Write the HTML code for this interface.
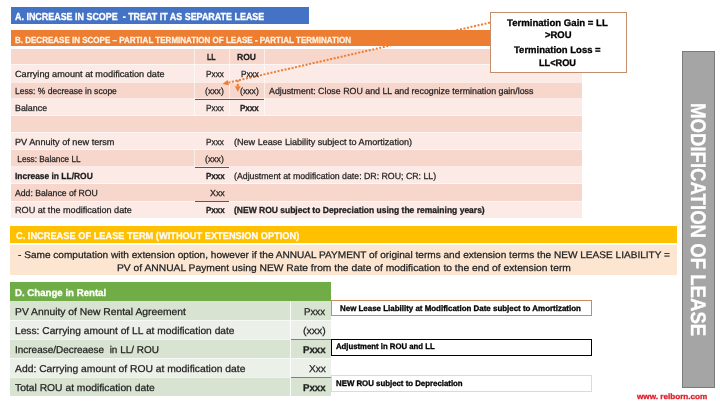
<!DOCTYPE html>
<html><head><meta charset="utf-8"><title>Modification of Lease</title>
<style>
html,body{margin:0;padding:0;background:#fff;}
body{width:720px;height:405px;position:relative;overflow:hidden;text-rendering:geometricPrecision;font-family:"Liberation Sans",Arial,sans-serif;}
.r{position:absolute;}
.t{position:absolute;white-space:pre;transform-origin:0 0;font-weight:400;-webkit-text-stroke:0.25px currentColor;}
.b{-webkit-text-stroke:0.3px currentColor;}
.b{font-weight:700;}
</style></head><body>
<div class="r" style="left:10.8px;top:6.5px;width:298.3px;height:17.1px;background:#4472c4;"></div>
<div class="r" style="left:10.5px;top:30.4px;width:571.1px;height:16.0px;background:#ed7d31;"></div>
<div class="r" style="left:10.5px;top:48.8px;width:571.1px;height:15.5px;background:#f7d6cb;"></div>
<div class="r" style="left:10.5px;top:64.3px;width:571.1px;height:18.0px;background:#fbeae5;"></div>
<div class="r" style="left:10.5px;top:82.3px;width:571.1px;height:16.5px;background:#f7d6cb;"></div>
<div class="r" style="left:10.5px;top:98.8px;width:571.1px;height:16.8px;background:#fbeae5;"></div>
<div class="r" style="left:10.5px;top:115.6px;width:571.1px;height:16.8px;background:#f7d6cb;"></div>
<div class="r" style="left:10.5px;top:132.4px;width:571.1px;height:17.2px;background:#fbeae5;"></div>
<div class="r" style="left:10.5px;top:149.6px;width:571.1px;height:17.2px;background:#f7d6cb;"></div>
<div class="r" style="left:10.5px;top:166.8px;width:571.1px;height:17.1px;background:#fbeae5;"></div>
<div class="r" style="left:10.5px;top:183.9px;width:571.1px;height:17.2px;background:#f7d6cb;"></div>
<div class="r" style="left:10.5px;top:201.1px;width:571.1px;height:17.1px;background:#fbeae5;"></div>
<div class="r" style="left:10.5px;top:63.8px;width:571.1px;height:1.0px;background:rgba(255,255,255,0.55);"></div>
<div class="r" style="left:10.5px;top:81.8px;width:571.1px;height:1.0px;background:rgba(255,255,255,0.55);"></div>
<div class="r" style="left:10.5px;top:98.3px;width:571.1px;height:1.0px;background:rgba(255,255,255,0.55);"></div>
<div class="r" style="left:10.5px;top:115.1px;width:571.1px;height:1.0px;background:rgba(255,255,255,0.55);"></div>
<div class="r" style="left:10.5px;top:131.9px;width:571.1px;height:1.0px;background:rgba(255,255,255,0.55);"></div>
<div class="r" style="left:10.5px;top:149.1px;width:571.1px;height:1.0px;background:rgba(255,255,255,0.55);"></div>
<div class="r" style="left:10.5px;top:166.3px;width:571.1px;height:1.0px;background:rgba(255,255,255,0.55);"></div>
<div class="r" style="left:10.5px;top:183.4px;width:571.1px;height:1.0px;background:rgba(255,255,255,0.55);"></div>
<div class="r" style="left:10.5px;top:200.6px;width:571.1px;height:1.0px;background:rgba(255,255,255,0.55);"></div>
<div class="r" style="left:194.2px;top:48.8px;width:1.0px;height:66.8px;background:rgba(255,255,255,0.6);"></div>
<div class="r" style="left:229.1px;top:48.8px;width:1.0px;height:66.8px;background:rgba(255,255,255,0.6);"></div>
<div class="r" style="left:264.1px;top:48.8px;width:1.0px;height:66.8px;background:rgba(255,255,255,0.6);"></div>
<div class="r" style="left:194.2px;top:149.6px;width:1.0px;height:17.2px;background:rgba(255,255,255,0.6);"></div>
<div class="r" style="left:195px;top:98.6px;width:69.3px;height:1.0px;background:#595959;"></div>
<div class="r" style="left:194.5px;top:166.5px;width:34.7px;height:1.0px;background:#595959;"></div>
<div class="r" style="left:194.5px;top:200.8px;width:34.7px;height:1.0px;background:#595959;"></div>
<div class="r" style="left:10.4px;top:226.0px;width:667.0px;height:16.8px;background:#ffc000;"></div>
<div class="r" style="left:10.4px;top:244.8px;width:667.0px;height:30.5px;background:#fce6d2;"></div>
<div class="r" style="left:10.3px;top:282.1px;width:320.5px;height:18.6px;background:#70ad47;"></div>
<div class="r" style="left:10.3px;top:300.7px;width:320.3px;height:19.3px;background:#d8e3d1;"></div>
<div class="r" style="left:10.3px;top:320.0px;width:320.3px;height:19.2px;background:#ebf0e8;"></div>
<div class="r" style="left:10.3px;top:339.2px;width:320.3px;height:18.9px;background:#d8e3d1;"></div>
<div class="r" style="left:10.3px;top:358.1px;width:320.3px;height:18.9px;background:#ebf0e8;"></div>
<div class="r" style="left:10.3px;top:377.0px;width:320.3px;height:18.9px;background:#d8e3d1;"></div>
<div class="r" style="left:10.3px;top:319.5px;width:320.3px;height:1.0px;background:rgba(255,255,255,0.6);"></div>
<div class="r" style="left:10.3px;top:338.7px;width:320.3px;height:1.0px;background:rgba(255,255,255,0.6);"></div>
<div class="r" style="left:10.3px;top:357.6px;width:320.3px;height:1.0px;background:rgba(255,255,255,0.6);"></div>
<div class="r" style="left:10.3px;top:376.5px;width:320.3px;height:1.0px;background:rgba(255,255,255,0.6);"></div>
<div class="r" style="left:290.1px;top:300.7px;width:1.0px;height:95.2px;background:rgba(255,255,255,0.85);"></div>
<div class="r" style="left:291px;top:339.0px;width:39.6px;height:1.0px;background:#7f7f7f;"></div>
<div class="r" style="left:291px;top:376.8px;width:39.6px;height:1.0px;background:#7f7f7f;"></div>
<div class="r" style="left:331.3px;top:300.3px;width:260.4px;height:15.9px;box-sizing:border-box;border:1px solid #c98a5e;background:#fff"></div>
<div class="r" style="left:331.3px;top:339.3px;width:260.4px;height:16.3px;box-sizing:border-box;border:1.4px solid #000;background:#fff"></div>
<div class="r" style="left:331.3px;top:375.3px;width:260.4px;height:17.1px;box-sizing:border-box;border:1px solid #f3dc8e;background:#fff"></div>
<div class="r" style="left:682px;top:51px;width:33.2px;height:336.5px;box-sizing:border-box;border:1px solid #7a7a7a;background:#a5a5a5"></div>
<div class="r" style="left:490px;top:12px;width:136.7px;height:60.5px;box-sizing:border-box;border:1px solid #c48e6e;background:#fff"></div>
<svg class="r" style="left:0;top:0" width="720" height="405" viewBox="0 0 720 405">
<line x1="490" y1="22.6" x2="228" y2="82.7" stroke="#ed7d31" stroke-width="2" stroke-dasharray="2 1.6"/>
<polygon points="222.6,83.9 227.6,80.0 228.9,85.2" fill="#ed7d31"/>
<line x1="237.8" y1="80.3" x2="237.8" y2="86.5" stroke="#ed7d31" stroke-width="2" stroke-dasharray="2 1.6"/>
<polygon points="237.8,91.8 234.9,86.3 240.7,86.3" fill="#ed7d31"/>
</svg>
<span class="t b" style="left:15.08px;top:12.90px;font-size:10.2px;line-height:10.2px;color:#ffffff;transform:scaleX(0.8767)">A. INCREASE IN SCOPE  - TREAT IT AS SEPARATE LEASE</span>
<span class="t b" style="left:15.29px;top:35.80px;font-size:8.873px;line-height:8.873px;color:#fdf1e4;transform:scaleX(0.9042)">B. DECREASE IN SCOPE – PARTIAL TERMINATION OF LEASE - PARTIAL TERMINATION</span>
<span class="t b" style="left:207.37px;top:52.90px;font-size:8.873px;line-height:8.873px;color:#1f1f1f;transform:scaleX(0.7935)">LL</span>
<span class="t b" style="left:237.07px;top:52.90px;font-size:8.873px;line-height:8.873px;color:#1f1f1f;transform:scaleX(0.9608)">ROU</span>
<span class="t" style="left:14.93px;top:70.10px;font-size:8.873px;line-height:8.873px;color:#1f1f1f;transform:scaleX(1.0329)">Carrying amount at modification date</span>
<span class="t" style="left:206.36px;top:70.10px;font-size:8.873px;line-height:8.873px;color:#1f1f1f;transform:scaleX(0.9318)">Pxxx</span>
<span class="t" style="left:241.06px;top:70.10px;font-size:8.873px;line-height:8.873px;color:#1f1f1f;transform:scaleX(0.9263)">Pxxx</span>
<span class="t" style="left:14.96px;top:86.90px;font-size:8.873px;line-height:8.873px;color:#1f1f1f;transform:scaleX(0.9620)">Less: % decrease in scope</span>
<span class="t" style="left:204.98px;top:86.90px;font-size:8.873px;line-height:8.873px;color:#1f1f1f;transform:scaleX(0.9834)">(xxx)</span>
<span class="t" style="left:239.68px;top:86.90px;font-size:8.873px;line-height:8.873px;color:#1f1f1f;transform:scaleX(0.9834)">(xxx)</span>
<span class="t" style="left:268.70px;top:86.90px;font-size:8.873px;line-height:8.873px;color:#1f1f1f;transform:scaleX(0.9974)">Adjustment: Close ROU and LL and recognize termination gain/loss</span>
<span class="t" style="left:14.88px;top:103.90px;font-size:8.873px;line-height:8.873px;color:#1f1f1f;transform:scaleX(1.0025)">Balance</span>
<span class="t" style="left:206.36px;top:103.90px;font-size:8.873px;line-height:8.873px;color:#1f1f1f;transform:scaleX(0.9318)">Pxxx</span>
<span class="t b" style="left:240.20px;top:103.90px;font-size:8.873px;line-height:8.873px;color:#1f1f1f;transform:scaleX(0.9033)">Pxxx</span>
<span class="t" style="left:15.00px;top:137.90px;font-size:8.873px;line-height:8.873px;color:#1f1f1f;transform:scaleX(1.0307)">PV Annuity of new tersm</span>
<span class="t" style="left:206.36px;top:137.90px;font-size:8.873px;line-height:8.873px;color:#1f1f1f;transform:scaleX(0.9318)">Pxxx</span>
<span class="t" style="left:234.15px;top:137.90px;font-size:8.873px;line-height:8.873px;color:#1f1f1f;transform:scaleX(1.0242)">(New Lease Liability subject to Amortization)</span>
<span class="t" style="left:15.41px;top:154.70px;font-size:8.873px;line-height:8.873px;color:#1f1f1f;transform:scaleX(0.9308)"> Less: Balance LL</span>
<span class="t" style="left:204.98px;top:154.70px;font-size:8.873px;line-height:8.873px;color:#1f1f1f;transform:scaleX(0.9834)">(xxx)</span>
<span class="t b" style="left:15.10px;top:171.90px;font-size:8.873px;line-height:8.873px;color:#1f1f1f;transform:scaleX(0.9509)">Increase in LL/ROU</span>
<span class="t b" style="left:205.50px;top:171.90px;font-size:8.873px;line-height:8.873px;color:#1f1f1f;transform:scaleX(0.9033)">Pxxx</span>
<span class="t" style="left:234.17px;top:171.90px;font-size:8.873px;line-height:8.873px;color:#1f1f1f;transform:scaleX(0.9889)">(Adjustment at modification date: DR: ROU; CR: LL)</span>
<span class="t" style="left:15.11px;top:188.80px;font-size:8.873px;line-height:8.873px;color:#1f1f1f;transform:scaleX(0.9784)">Add: Balance of ROU</span>
<span class="t" style="left:209.59px;top:188.80px;font-size:8.873px;line-height:8.873px;color:#1f1f1f;transform:scaleX(1.0026)">Xxx</span>
<span class="t" style="left:15.00px;top:206.40px;font-size:8.873px;line-height:8.873px;color:#1f1f1f;transform:scaleX(1.0268)">ROU at the modification date</span>
<span class="t b" style="left:205.50px;top:206.40px;font-size:8.873px;line-height:8.873px;color:#1f1f1f;transform:scaleX(0.9033)">Pxxx</span>
<span class="t b" style="left:234.18px;top:206.40px;font-size:8.873px;line-height:8.873px;color:#1f1f1f;transform:scaleX(0.9591)">(NEW ROU subject to Depreciation using the remaining years)</span>
<span class="t b" style="left:507.47px;top:18.60px;font-size:9.6px;line-height:9.6px;color:#000000;transform:scaleX(0.9997)">Termination Gain = LL</span>
<span class="t b" style="left:544.90px;top:31.30px;font-size:9.6px;line-height:9.6px;color:#000000;transform:scaleX(0.9857)">&gt;ROU</span>
<span class="t b" style="left:514.48px;top:45.50px;font-size:9.6px;line-height:9.6px;color:#000000;transform:scaleX(0.9898)">Termination Loss =</span>
<span class="t b" style="left:539.39px;top:58.80px;font-size:9.6px;line-height:9.6px;color:#000000;transform:scaleX(0.9565)">LL&lt;ROU</span>
<span class="t b" style="left:15.62px;top:231.70px;font-size:9.7px;line-height:9.7px;color:#fffaf0;transform:scaleX(0.9554)">C. INCREASE OF LEASE TERM (WITHOUT EXTENSION OPTION)</span>
<span class="t" style="left:17.86px;top:250.70px;font-size:9.6px;line-height:9.6px;color:#1f1f1f;transform:scaleX(1.0509)">- Same computation with extension option, however if the ANNUAL PAYMENT of original terms and extension terms the NEW LEASE LIABILITY =</span>
<span class="t" style="left:116.75px;top:263.50px;font-size:9.6px;line-height:9.6px;color:#1f1f1f;transform:scaleX(1.0715)">PV of ANNUAL Payment using NEW Rate from the date of modification to the end of extension term</span>
<span class="t b" style="left:15.35px;top:288.80px;font-size:9.8px;line-height:9.8px;color:#ffffff;transform:scaleX(0.9853)">D. Change in Rental</span>
<span class="t" style="left:15.21px;top:308.00px;font-size:9.9px;line-height:9.9px;color:#1f1f1f;transform:scaleX(1.0449)">PV Annuity of New Rental Agreement</span>
<span class="t" style="left:304.46px;top:308.00px;font-size:9.9px;line-height:9.9px;color:#1f1f1f;transform:scaleX(0.9857)">Pxxx</span>
<span class="t" style="left:15.23px;top:327.30px;font-size:9.9px;line-height:9.9px;color:#1f1f1f;transform:scaleX(1.0352)">Less: Carrying amount of LL at modification date</span>
<span class="t" style="left:303.17px;top:327.30px;font-size:9.9px;line-height:9.9px;color:#1f1f1f;transform:scaleX(1.0678)">(xxx)</span>
<span class="t" style="left:15.11px;top:346.30px;font-size:9.9px;line-height:9.9px;color:#1f1f1f;transform:scaleX(1.0084)">Increase/Decreaese  in LL/ ROU</span>
<span class="t b" style="left:303.36px;top:346.30px;font-size:9.9px;line-height:9.9px;color:#1f1f1f;transform:scaleX(0.9799)">Pxxx</span>
<span class="t" style="left:15.40px;top:365.00px;font-size:9.9px;line-height:9.9px;color:#1f1f1f;transform:scaleX(1.0468)">Add: Carrying amount of ROU at modification date</span>
<span class="t" style="left:308.84px;top:365.00px;font-size:9.9px;line-height:9.9px;color:#1f1f1f;transform:scaleX(1.0199)">Xxx</span>
<span class="t" style="left:15.14px;top:384.00px;font-size:9.9px;line-height:9.9px;color:#1f1f1f;transform:scaleX(1.0437)">Total ROU at modification date</span>
<span class="t b" style="left:303.36px;top:384.00px;font-size:9.9px;line-height:9.9px;color:#1f1f1f;transform:scaleX(0.9799)">Pxxx</span>
<span class="t b" style="left:340.28px;top:305.20px;font-size:8.0px;line-height:8.0px;color:#000000;transform:scaleX(0.9917)">New Lease Liability at Modification Date subject to Amortization</span>
<span class="t b" style="left:335.52px;top:343.00px;font-size:8.0px;line-height:8.0px;color:#000000;transform:scaleX(0.9691)">Adjustment in ROU and LL</span>
<span class="t b" style="left:335.89px;top:379.60px;font-size:8.0px;line-height:8.0px;color:#000000;transform:scaleX(0.9792)">NEW ROU subject to Depreciation</span>
<span class="t b" style="left:637.38px;top:392.75px;font-size:7.6px;line-height:7.6px;color:#e0202a;transform:scaleX(1.0723)">www. reiborn.com</span>
<span class="t b" style="left:0;top:0;font-size:21.1px;line-height:21.1px;color:#fff;transform-origin:0 0;transform:translate(707.7px,103.0px) rotate(90deg) scaleX(0.882)">MODIFICATION OF LEASE</span>
</body></html>
